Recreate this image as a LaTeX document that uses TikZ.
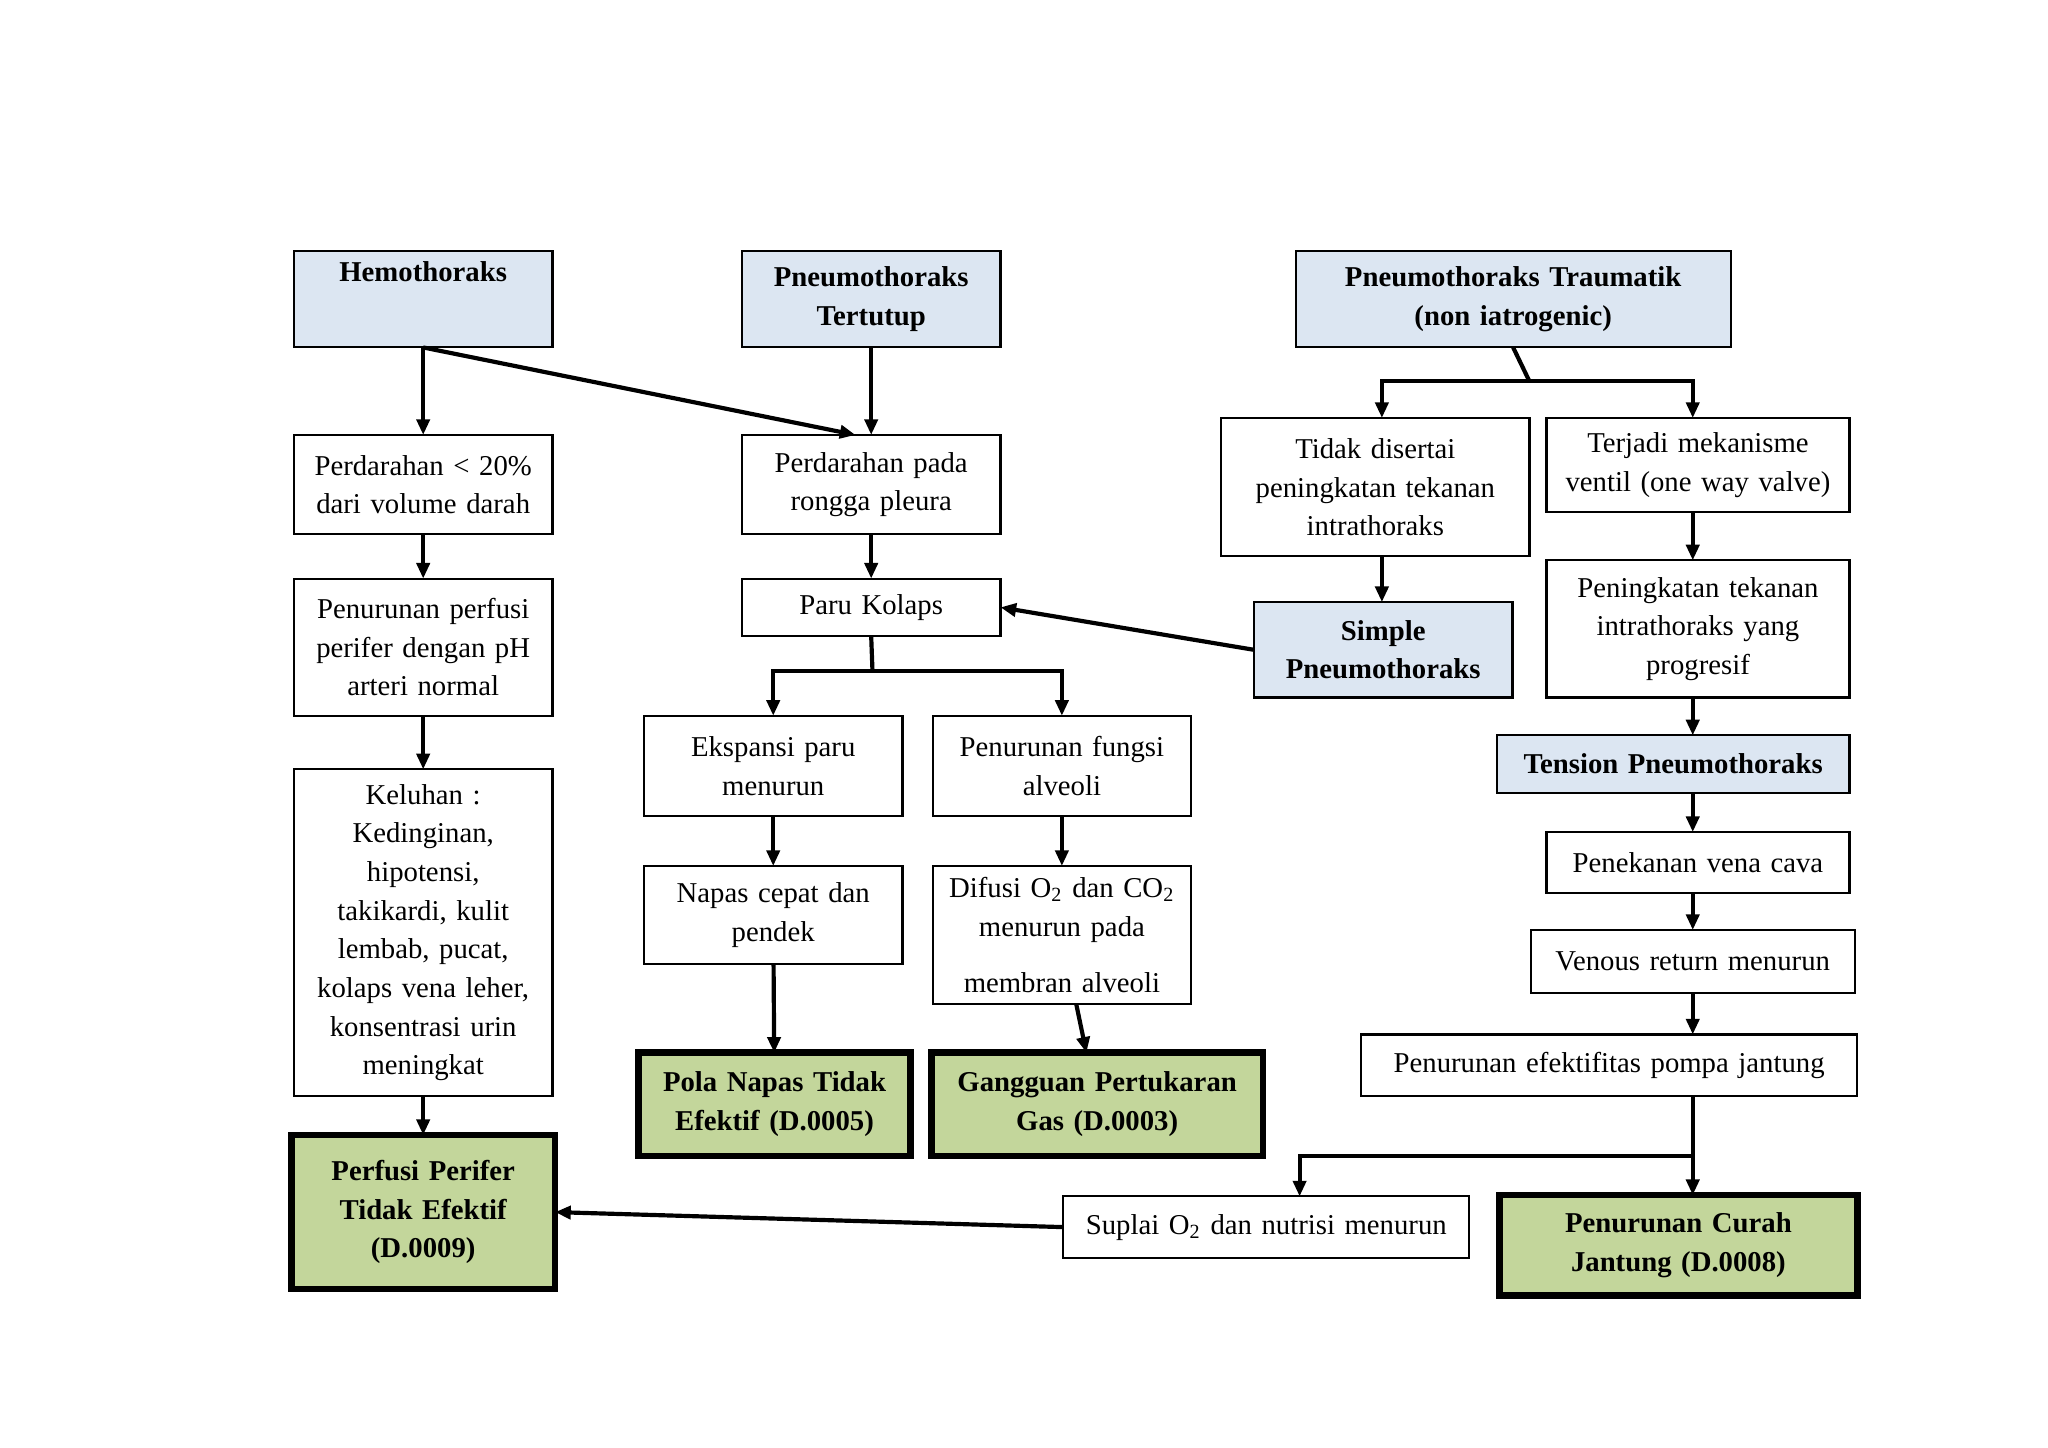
\documentclass[tikz,border=0pt]{standalone}
\usepackage{fontspec}
\setmainfont{Liberation Serif}
\usetikzlibrary{arrows.meta}
\definecolor{bl}{HTML}{DCE6F2}
\definecolor{gr}{HTML}{C3D69B}
\newcommand\bx[7]{\pgfmathsetmacro\ww{(#4-#2)*0.5}\pgfmathsetmacro\hh{(#5-#3)*0.5}\pgfmathsetmacro\tw{\ww-8}%
\node[box,#6,minimum width=\ww pt,minimum height=\hh pt,text width=\tw pt] (#1) at ({(#2+#4)/2},{(#3+#5)/2}) {#7};}
\begin{document}
\begin{tikzpicture}[x=0.5pt,y=-0.5pt,
box/.style={draw,line width=0.8pt,align=center,inner xsep=4pt,inner ysep=0pt,outer sep=0pt,font=\fontsize{11}{14.8}\selectfont},
blue/.style={fill=bl,font=\fontsize{11}{14.8}\selectfont\bfseries},
green/.style={fill=gr,line width=2.5pt,font=\fontsize{11}{14.8}\selectfont\bfseries},
ar/.style={line width=1.6pt,-{Triangle[length=6pt,width=5pt]}},
ln/.style={line width=1.6pt}]
\useasboundingbox[fill=white] (0,0) rectangle (1568,1108);
\bx{h}{225}{192}{423}{266}{blue}{Hemothoraks\\[6pt]\mbox{}}
\bx{pt}{568}{192}{766}{266}{blue}{Pneumothoraks\\Tertutup}
\bx{ptr}{992}{192}{1325}{266}{blue}{Pneumothoraks Traumatik\\(non iatrogenic)}
\bx{p20}{225}{333}{423}{409}{}{Perdarahan < 20\%\\dari volume darah}
\bx{pp}{568}{333}{766}{409}{}{Perdarahan pada\\rongga pleura}
\bx{td}{935}{320}{1171}{426}{}{Tidak disertai\\peningkatan tekanan\\intrathoraks}
\bx{tm}{1184}{320}{1416}{392}{}{Terjadi mekanisme\\ventil (one way valve)}
\bx{pf}{225}{443}{423}{548}{}{Penurunan perfusi\\perifer dengan pH\\arteri normal}
\bx{pk}{568}{443}{766}{487}{}{Paru Kolaps}
\bx{sp}{960}{461}{1158}{534}{blue}{Simple\\Pneumothoraks}
\bx{pti}{1184}{429}{1416}{534}{}{Peningkatan tekanan\\intrathoraks yang\\progresif}
\bx{kel}{225}{589}{423}{839}{}{Keluhan :\\Kedinginan,\\hipotensi,\\takikardi, kulit\\lembab, pucat,\\kolaps vena leher,\\konsentrasi urin\\meningkat}
\bx{eks}{493}{548}{691}{625}{}{Ekspansi paru\\menurun}
\bx{pfa}{714}{548}{912}{625}{}{Penurunan fungsi\\alveoli}
\bx{ten}{1146}{563}{1416}{607}{blue}{Tension Pneumothoraks}
\bx{nap}{493}{663}{691}{738}{}{Napas cepat dan\\pendek}
\bx{dif}{714}{663}{912}{769}{}{Difusi O\textsubscript{2} dan CO\textsubscript{2}\\menurun pada\\[7pt]membran alveoli}
\bx{pvc}{1184}{637}{1416}{684}{}{Penekanan vena cava}
\bx{vr}{1172}{712}{1420}{760}{}{Venous return menurun}
\bx{pej}{1042}{792}{1422}{839}{}{Penurunan efektifitas pompa jantung}
\bx{pola}{489}{806}{697}{885}{green}{Pola Napas Tidak\\Efektif (D.0005)}
\bx{gg}{713}{806}{967}{885}{green}{Gangguan Pertukaran\\Gas (D.0003)}
\bx{ppt}{223}{869}{425}{987}{green}{Perfusi Perifer\\Tidak Efektif\\(D.0009)}
\bx{sup}{814}{916}{1125}{963}{}{Suplai O\textsubscript{2} dan nutrisi menurun}
\bx{pcj}{1148}{915}{1422}{992}{green}{Penurunan Curah\\Jantung (D.0008)}
% connectors
\draw[ar] (h.south) -- (p20.north);
\coordinate (pe) at (655,333);
\draw[ar] (h.south) -- (pe);
\draw[ar] (pt.south) -- (pp.north);
\draw[ar] (p20) -- (pf);
\draw[ar] (pf) -- (kel);
\draw[ar] (kel) -- (ppt);
\draw[ar] (pp) -- (pk);
\coordinate (b1) at (668,514);
\draw[ln] (pk.south) -- (b1);
\draw[ar] (b1) -| (eks.north);
\draw[ar] (b1) -| (pfa.north);
\draw[ar] (eks) -- (nap);
\draw[ar] (nap) -- (pola);
\draw[ar] (pfa) -- (dif);
\draw[ar] (dif) -- (gg);
\coordinate (b2) at (1171,292);
\draw[ln] (ptr.south) -- (b2);
\draw[ar] (b2) -| (1058,320);
\draw[ar] (b2) -| (1296,320);
\draw[ar] (1058,426) -- (1058,461);
\draw[ar] (sp.west) -- (pk.east);
\draw[ar] (1296,392) -- (1296,429);
\draw[ar] (1296,534) -- (1296,563);
\draw[ar] (1296,607) -- (1296,637);
\draw[ar] (1296,684) -- (1296,712);
\draw[ar] (1296,760) -- (1296,792);
\coordinate (b3) at (1296,885);
\draw[ar] (1296,839) -- (1296,915);
\draw[ar] (b3) -| (995,916);
\draw[ar] (sup.west) -- (ppt.east);
\end{tikzpicture}
\end{document}
